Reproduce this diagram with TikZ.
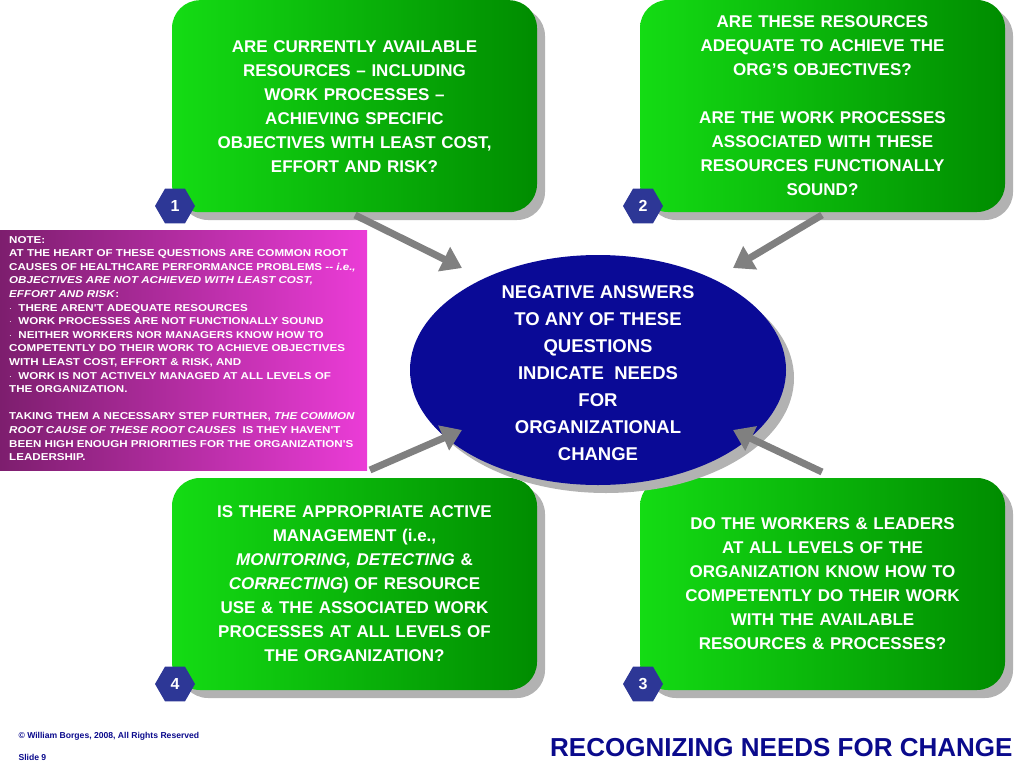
\documentclass[tikz,border=0pt]{standalone}
\usepackage{fontspec}
\setmainfont{Liberation Sans}
\newfontfamily\widefont[FakeStretch=1.16]{Liberation Sans}
\usetikzlibrary{shapes.geometric,arrows.meta}
\definecolor{gr}{RGB}{20,220,20}
\definecolor{grd}{RGB}{0,140,0}
\definecolor{bl}{RGB}{10,10,150}
\definecolor{pk}{RGB}{235,60,215}
\definecolor{pkd}{RGB}{125,30,110}
\definecolor{hex}{RGB}{45,55,150}
\definecolor{tb}{RGB}{10,10,140}
\tikzset{
 qbox/.style={rounded corners=28pt,left color=gr,right color=grd,draw=none,minimum width=365pt,minimum height=212pt,text width=350pt,align=center,text=white,font=\bfseries\fontsize{17}{24}\selectfont},
 shad/.style={fill=black!30,rounded corners=28pt},
 badge/.style={regular polygon,regular polygon sides=6,fill=hex,text=white,minimum size=40pt,inner sep=0pt,font=\bfseries\fontsize{16}{16}\selectfont},
 garrow/.style={draw=black!50,line width=7pt,-{Triangle[length=20pt,width=26pt]}}
}
\begin{document}
\begin{tikzpicture}[x=1pt,y=-1pt]
\useasboundingbox (0,0) rectangle (1024,768);
\foreach \x/\y in {180/8,648/8,180/486,648/486}{\fill[shad] (\x,\y) rectangle ++(365,212);}
\node[qbox,anchor=north] (b1) at (354.5,0) {\\[-11pt]\strut ARE CURRENTLY AVAILABLE\\ RESOURCES -- INCLUDING\\ WORK PROCESSES --\\ ACHIEVING SPECIFIC\\ OBJECTIVES WITH LEAST COST,\\ EFFORT AND RISK?\\[40pt]};
\node[qbox] (b2) at (822.5,106) {ARE THESE RESOURCES\\ ADEQUATE TO ACHIEVE THE\\ ORG'S OBJECTIVES?\\[24pt] ARE THE WORK PROCESSES\\ ASSOCIATED WITH THESE\\ RESOURCES FUNCTIONALLY\\ SOUND?};
\node[qbox] (b4) at (354.5,584) {IS THERE APPROPRIATE ACTIVE\\ MANAGEMENT (i.e.,\\ \textit{MONITORING, DETECTING} \&\\ \textit{CORRECTING}) OF RESOURCE\\ USE \& THE ASSOCIATED WORK\\ PROCESSES AT ALL LEVELS OF\\ THE ORGANIZATION?\\[30pt]};
\node[qbox] (b3) at (822.5,584) {DO THE WORKERS \& LEADERS\\ AT ALL LEVELS OF THE\\ ORGANIZATION KNOW HOW TO\\ COMPETENTLY DO THEIR WORK\\ WITH THE AVAILABLE\\ RESOURCES \& PROCESSES?\\[6pt]};
\node[badge] (n1) at (175,206) {1};
\node[badge] (n2) at (643,206) {2};
\node[badge] (n4) at (175,684) {4};
\node[badge] (n3) at (643,684) {3};
\fill[black!30] (606,378) ellipse [x radius=188,y radius=115];
\node[ellipse,fill=bl,minimum width=376pt,minimum height=230pt,inner sep=0pt] (c) at (598,370) {};
\node[text=white,align=center,font=\bfseries\fontsize{18.5}{27}\selectfont] (ct) at (598,373) {NEGATIVE ANSWERS\\ TO ANY OF THESE\\ QUESTIONS\\ INDICATE\ \ NEEDS\\ FOR\\ ORGANIZATIONAL\\ CHANGE};
\coordinate (a1) at (355,215); \coordinate (e1) at (462,268);
\coordinate (a2) at (822,215); \coordinate (e2) at (733,268);
\coordinate (a4) at (370,470); \coordinate (e4) at (462,430);
\coordinate (a3) at (822,472); \coordinate (e3) at (733,430);
\draw[garrow] (a1) -- (e1);
\draw[garrow] (a2) -- (e2);
\draw[garrow] (a4) -- (e4);
\draw[garrow] (a3) -- (e3);
\fill[left color=pkd,right color=pk] (0,230) rectangle (367,470);
\node[anchor=north west,inner sep=0pt,align=left,text=white,font=\widefont\bfseries\fontsize{10}{13.6}\selectfont] (note) at (9,236) {NOTE:\\
AT THE HEART OF THESE QUESTIONS ARE COMMON ROOT\\ CAUSES OF HEALTHCARE PERFORMANCE PROBLEMS -- \textit{i.e.,}\\ \textit{OBJECTIVES ARE NOT ACHIEVED WITH LEAST COST,}\\ \textit{EFFORT AND RISK}:\\
$\cdot$\ \ THERE AREN'T ADEQUATE RESOURCES\\
$\cdot$\ \ WORK PROCESSES ARE NOT FUNCTIONALLY SOUND\\
$\cdot$\ \ NEITHER WORKERS NOR MANAGERS KNOW HOW TO\\ COMPETENTLY DO THEIR WORK TO ACHIEVE OBJECTIVES\\ WITH LEAST COST, EFFORT \& RISK, AND\\
$\cdot$\ \ WORK IS NOT ACTIVELY MANAGED AT ALL LEVELS OF\\ THE ORGANIZATION.\\[13.6pt]
TAKING THEM A NECESSARY STEP FURTHER, \textit{THE COMMON}\\ \textit{ROOT CAUSE OF THESE ROOT CAUSES}\ \ IS THEY HAVEN'T\\ BEEN HIGH ENOUGH PRIORITIES FOR THE ORGANIZATION'S\\ LEADERSHIP.};
\node[anchor=west,text=tb,font=\bfseries\fontsize{8.6}{9}\selectfont] (cp) at (15,736) {\copyright\ William Borges, 2008, All Rights Reserved};
\node[anchor=west,text=tb,font=\bfseries\fontsize{8.6}{9}\selectfont] (sl) at (15,757) {Slide 9};
\node[anchor=east,text=tb,font=\bfseries\fontsize{26}{28}\selectfont] (ti) at (1016,748) {RECOGNIZING NEEDS FOR CHANGE};
\end{tikzpicture}
\end{document}
